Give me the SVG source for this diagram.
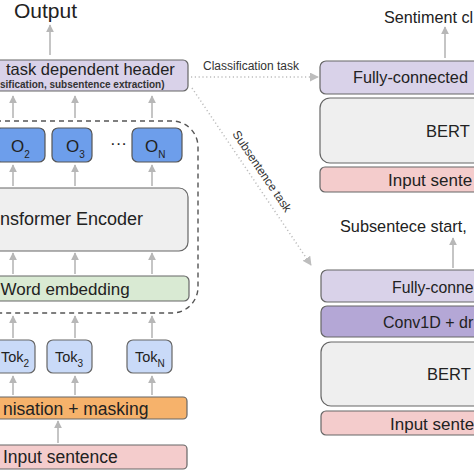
<svg xmlns="http://www.w3.org/2000/svg" width="474" height="474" viewBox="0 0 474 474">
<style>
text{font-family:"Liberation Sans",Arial,sans-serif;fill:#222}
.b{stroke:#666;stroke-width:1.2}
.hdr{fill:#d9d2e9}
.o{fill:#6d9eeb;stroke:#555;stroke-width:1.2}
.tf{fill:#efefef}
.we{fill:#d9ead3}
.tok{fill:#c9daf8}
.tm{fill:#f6b26b}
.in{fill:#f4cccc}
.cv{fill:#b4a7d6}
.a{stroke:#b7b7b7;stroke-width:1.6;fill:none;marker-end:url(#ah)}
.d{stroke:#bdbdbd;stroke-width:1.5;fill:none;stroke-dasharray:1.2 2.6;marker-end:url(#dh)}
.t17{font-size:17px}
</style>
<defs>
<marker id="ah" viewBox="0 0 10 10" refX="9" refY="5" markerWidth="8" markerHeight="8" markerUnits="userSpaceOnUse" orient="auto">
<path d="M0,0 L10,5 L0,10 z" fill="#b7b7b7"/>
</marker>
<marker id="dh" viewBox="0 0 10 10" refX="9" refY="5" markerWidth="9" markerHeight="9" markerUnits="userSpaceOnUse" orient="auto">
<path d="M0,0 L10,5 L0,10 z" fill="#bdbdbd"/>
</marker>
</defs>
<rect width="474" height="474" fill="#fff"/>

<g id="connectors">
<line class="a" x1="50" y1="55" x2="50" y2="25"/>
<line class="a" x1="13" y1="118" x2="13" y2="96"/>
<line class="a" x1="75" y1="118" x2="75" y2="96"/>
<line class="a" x1="152" y1="118" x2="152" y2="96"/>
<line class="a" x1="13" y1="186" x2="13" y2="165"/>
<line class="a" x1="75" y1="186" x2="75" y2="165"/>
<line class="a" x1="152" y1="186" x2="152" y2="165"/>
<line class="a" x1="13" y1="274" x2="13" y2="253"/>
<line class="a" x1="75" y1="274" x2="75" y2="253"/>
<line class="a" x1="152" y1="274" x2="152" y2="253"/>
<line class="a" x1="13" y1="338" x2="13" y2="316"/>
<line class="a" x1="75" y1="338" x2="75" y2="316"/>
<line class="a" x1="152" y1="338" x2="152" y2="316"/>
<line class="a" x1="13" y1="395" x2="13" y2="376"/>
<line class="a" x1="75" y1="395" x2="75" y2="376"/>
<line class="a" x1="152" y1="395" x2="152" y2="376"/>
<line class="a" x1="58" y1="443" x2="58" y2="421"/>
<line class="a" x1="445" y1="58" x2="445" y2="27"/>
<line class="a" x1="453" y1="268" x2="453" y2="238"/>
<line class="d" x1="191" y1="77" x2="318" y2="77"/>
<line class="d" x1="192" y1="88" x2="311" y2="265"/>
<text x="203" y="70" font-size="12" style="fill:#333">Classification task</text>
<text x="232" y="134" font-size="12" style="fill:#333" transform="rotate(56 232 134)">Subsentence task</text>
</g>

<g id="output-label"><text x="14" y="18" font-size="21">Output</text></g>

<g id="header">
<rect class="b hdr" x="-10" y="60" width="198" height="31" rx="5"/>
<text x="6" y="75" font-size="16.5">task dependent header</text>
<text x="0" y="88" font-size="10" font-weight="bold" style="fill:#333">sification, subsentence extraction)</text>
</g>

<g id="encoder-group">
<rect x="-30" y="121" width="228" height="192" rx="26" fill="none" stroke="#555" stroke-width="1.4" stroke-dasharray="5 4"/>
</g>

<g id="o2"><rect class="o" x="-5" y="128" width="50" height="34" rx="6"/><text x="11" y="152" class="t17">O<tspan font-size="10" dy="6">2</tspan></text></g>
<g id="o3"><rect class="o" x="52" y="128" width="40" height="34" rx="6"/><text x="66" y="152" class="t17">O<tspan font-size="10" dy="6">3</tspan></text></g>
<g id="dots"><text x="110" y="149" class="t17">···</text></g>
<g id="on"><rect class="o" x="132" y="128" width="50" height="34" rx="6"/><text x="145" y="152" class="t17">O<tspan font-size="10" dy="6">N</tspan></text></g>

<g id="transformer">
<rect class="b tf" x="-80" y="188" width="268" height="63" rx="9"/>
<text x="0" y="225" font-size="18">nsformer Encoder</text>
</g>

<g id="word-embedding">
<rect class="b we" x="-10" y="276" width="199" height="25" rx="5"/>
<text x="0.5" y="295" font-size="17">Word embedding</text>
</g>

<g id="tok2"><rect class="b tok" x="-10" y="340" width="45" height="33" rx="6"/><text x="1" y="362" font-size="14.5">Tok<tspan font-size="10" dy="5">2</tspan></text></g>
<g id="tok3"><rect class="b tok" x="47" y="340" width="45" height="33" rx="6"/><text x="55" y="362" font-size="14.5">Tok<tspan font-size="10" dy="5">3</tspan></text></g>
<g id="tokn"><rect class="b tok" x="127" y="340" width="45" height="33" rx="6"/><text x="135" y="362" font-size="14.5">Tok<tspan font-size="10" dy="5">N</tspan></text></g>

<g id="tokenisation">
<rect class="b tm" x="-10" y="397" width="197" height="22" rx="4"/>
<text x="3" y="415" font-size="17.5">nisation + masking</text>
</g>

<g id="input-left">
<rect class="b in" x="-10" y="445" width="197" height="24" rx="4"/>
<text x="3" y="463" font-size="17.5">Input sentence</text>
</g>

<g id="sentiment-label"><text x="384" y="23" font-size="16.2">Sentiment cl</text></g>
<g id="fc-top"><rect class="b hdr" x="320" y="61" width="170" height="33" rx="6"/><text x="353" y="83" font-size="16.3">Fully-connected</text></g>
<g id="bert-top"><rect class="b tf" x="320" y="98" width="170" height="65" rx="10"/><text x="426" y="137" font-size="16.5">BERT</text></g>
<g id="input-top"><rect class="b in" x="320" y="167" width="170" height="25" rx="5"/><text x="388" y="186" font-size="17">Input sente</text></g>

<g id="subsentence-label"><text x="340" y="232" font-size="16.3">Subsentece start,</text></g>
<g id="fc-bottom"><rect class="b hdr" x="321" y="270" width="170" height="32" rx="6"/><text x="392" y="293" font-size="15.8">Fully-conne</text></g>
<g id="conv"><rect class="b cv" x="321" y="306" width="170" height="31" rx="6"/><text x="383" y="328" font-size="16">Conv1D + dr</text></g>
<g id="bert-bottom"><rect class="b tf" x="321" y="342" width="170" height="64" rx="10"/><text x="427" y="380" font-size="16.5">BERT</text></g>
<g id="input-bottom"><rect class="b in" x="321" y="411" width="170" height="24" rx="5"/><text x="390" y="430" font-size="17">Input sente</text></g>
</svg>
